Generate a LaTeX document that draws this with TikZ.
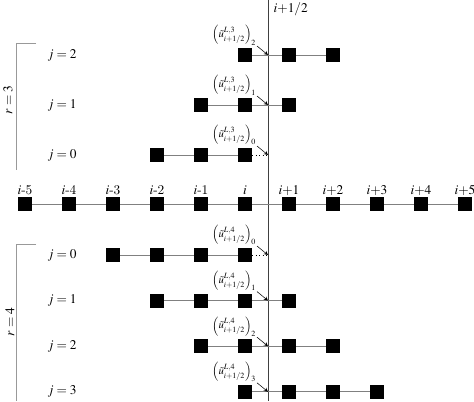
\documentclass[tikz,border=0pt]{standalone}
\usepackage{amsmath}
\usepackage{mathptmx}
\usetikzlibrary{arrows.meta}
\usetikzlibrary{calc}

\tikzset{
  cell/.style={fill=black, minimum size=10.5pt, inner sep=0pt},
  link/.style={draw=gray, line width=0.5pt},
  note/.style={font=\footnotesize, inner sep=0.5pt, anchor=south east},
  brace/.style={draw=gray!80, line width=0.7pt},
}

\begin{document}
\begin{tikzpicture}[x=0.75pt, y=-0.75pt, >=stealth]
    \useasboundingbox (0,0) rectangle (474,401);

    % interface i+1/2
    \coordinate (top) at (268,0);
    \coordinate (bot) at (268,401);
    \draw[gray!50!black, line width=0.5pt] (top) -- (bot);
    \node[anchor=west] (half) at (269,9) {$i{+}1/2$};

    % main grid row
    \foreach \n/\t in {0/{$i$-5},1/{$i$-4},2/{$i$-3},3/{$i$-2},4/{$i$-1},5/{$i$},
                       6/{$i{+}1$},7/{$i{+}2$},8/{$i{+}3$},9/{$i{+}4$},10/{$i{+}5$}}
        \node[cell, label={[inner sep=1pt]above:\t}] (m\n) at ({25+44*\n},204) {};
    \foreach \n [remember=\n as \p (initially 0)] in {1,...,10}
        \draw[link] (m\p) -- (m\n);

    % r = 3 stencils
    \draw[brace] (36,43) -- (16,43) -- (16,170);
    \node[rotate=90] (r3) at (8,100) {$r=3$};
    \foreach \j in {0,1,2} {
        \pgfmathsetmacro\y{155-50*\j}
        \node (j3\j) at (62,\y) {$j=\j$};
        \foreach \s in {0,1,2}
            \node[cell] (a\j\s) at ({245+44*(\j-2+\s)},\y) {};
        \foreach \s [remember=\s as \q (initially 0)] in {1,2}
            \draw[link] (a\j\q) -- (a\j\s);
        \coordinate (c3\j) at (268,\y);
        \node[note] (n3\j) at ($(c3\j)+(-11,-9)$) {$\left(\tilde{u}^{L,3}_{i+1/2}\right)_{\j}$};
        \draw[->] (n3\j.south east) -- (c3\j);
    }
    \draw[dotted, line width=0.6pt] (a02) -- (c30);

    % r = 4 stencils
    \draw[brace] (36,244) -- (16,244) -- (16,401);
    \node[rotate=90] (r4) at (10,322) {$r=4$};
    \foreach \j in {0,1,2,3} {
        \pgfmathsetmacro\y{255+45.6*\j}
        \node (j4\j) at (62,\y) {$j=\j$};
        \foreach \s in {0,1,2,3}
            \node[cell] (b\j\s) at ({245+44*(\j-3+\s)},\y) {};
        \foreach \s [remember=\s as \q (initially 0)] in {1,2,3}
            \draw[link] (b\j\q) -- (b\j\s);
        \coordinate (c4\j) at (268,\y);
        \node[note] (n4\j) at ($(c4\j)+(-11,-9)$) {$\left(\tilde{u}^{L,4}_{i+1/2}\right)_{\j}$};
        \draw[->] (n4\j.south east) -- (c4\j);
    }
    \draw[dotted, line width=0.6pt] (b03) -- (c40);
\end{tikzpicture}
\end{document}
